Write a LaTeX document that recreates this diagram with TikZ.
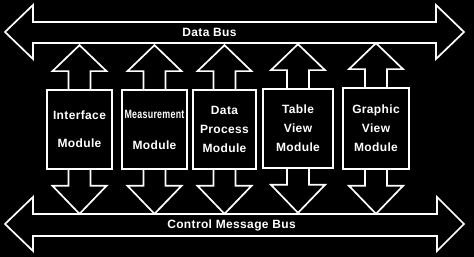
\documentclass[tikz,border=0pt]{standalone}
\usepackage{fontspec}
\usepackage{graphicx}
\setmainfont{Liberation Sans}[LetterSpace=3]
\begin{document}
\begin{tikzpicture}[x=1pt,y=1pt,
  ln/.style={draw=white,line width=1.7pt,line join=miter},
  modbox/.style={ln,fill=black,text=white,minimum height=79pt,align=center,inner sep=0pt,
     font=\bfseries\fontsize{12}{19}\selectfont},
  buslabel/.style={text=white,inner sep=0pt,font=\bfseries\fontsize{12}{14}\selectfont},
  uparrow/.pic={\draw[ln] (-11,0) -- (-11,18) -- (-27,18) -- (0,44) -- (27,18) -- (11,18) -- (11,0);},
  downarrow/.pic={\draw[ln] (-11,0) -- (-11,-16) -- (-27,-16) -- (0,-44) -- (27,-16) -- (11,-16) -- (11,0);}
]
\fill[black] (0,0) rectangle (474,257);
\useasboundingbox (0,0) rectangle (474,257);
% Data bus
\draw[ln] (5,225) -- (33,252) -- (33,235) -- (436,235) -- (436,252) -- (464,225)
  -- (436,198) -- (436,214) -- (33,214) -- (33,198) -- cycle;
\node[buslabel] (databus) at (209.5,225) {Data Bus};
% Control message bus
\draw[ln] (5,33) -- (33,60) -- (33,43) -- (437,43) -- (437,60) -- (464,33)
  -- (437,6) -- (437,21) -- (33,21) -- (33,6) -- cycle;
\node[buslabel] (ctrlbus) at (231.5,32) {Control Message Bus};
% Modules
\node[modbox,minimum width=65pt] (m1) at (79.5,127.5) {Interface\\[9pt]Module};
\node[modbox,minimum width=65pt] (m2) at (154.5,127.5) {\raisebox{3pt}{\scalebox{0.74}[1]{Measurement}}\\[9pt]Module};
\node[modbox,minimum width=63pt] (m3) at (224.5,127.5) {Data\\Process\\Module};
\node[modbox,minimum width=70pt] (m4) at (298,128.5) {Table\\View\\Module};
\node[modbox,minimum width=66pt,minimum height=81pt] (m5) at (376,128.5) {Graphic\\View\\Module};
\foreach \m in {m1,m2,m3,m4,m5}{
  \pic at (\m.north) {uparrow};
  \pic at (\m.south) {downarrow};
}
\end{tikzpicture}
\end{document}
